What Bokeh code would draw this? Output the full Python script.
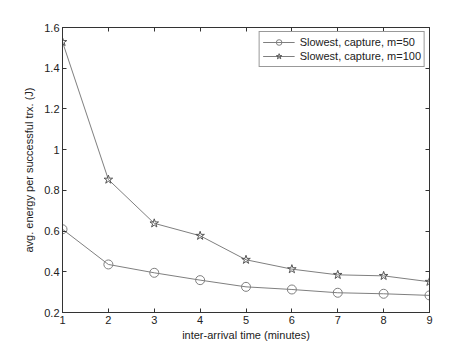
from bokeh.plotting import figure
from bokeh.models import Range1d, FixedTicker, LinearAxis, Legend, LegendItem, CustomJSTickFormatter
from bokeh.embed import file_html
from bokeh.resources import INLINE

x_vals = [1, 2, 3, 4, 5, 6, 7, 8, 9]
m50 = [0.609, 0.436, 0.395, 0.359, 0.326, 0.313, 0.297, 0.292, 0.284]
m100 = [1.529, 0.853, 0.638, 0.577, 0.459, 0.413, 0.385, 0.380, 0.351]
y_ticks = [0.2, 0.4, 0.6, 0.8, 1.0, 1.2, 1.4, 1.6]
y_tick_labels = ["0.2", "0.4", "0.6", "0.8", "1", "1.2", "1.4", "1.6"]
x_label = "inter-arrival time (minutes)"
y_label = "avg. energy per successful trx. (J)"
series_names = ["Slowest, capture, m=50", "Slowest, capture, m=100"]

FONT = "Liberation Sans"
LINE = "#7f7f7f"

p = figure(width=474, height=351, output_backend="svg", toolbar_location=None,
           x_range=Range1d(1, 9), y_range=Range1d(0.2, 1.6),
           min_border_left=62, min_border_right=45, min_border_top=27, min_border_bottom=39)
p.background_fill_color = "white"
p.border_fill_color = "white"
p.outline_line_color = "#333333"
p.outline_line_width = 1
p.grid.visible = False

def style_axis(ax):
    ax.major_tick_in = 4
    ax.major_tick_out = 0
    ax.minor_tick_in = 0
    ax.minor_tick_out = 0
    ax.axis_line_color = "#333333"
    ax.major_tick_line_color = "#333333"
    ax.major_label_text_font = FONT
    ax.major_label_text_font_size = "11px"
    ax.major_label_text_color = "#222222"
    ax.axis_label_text_font = FONT
    ax.axis_label_text_font_size = "11px"
    ax.axis_label_text_font_style = "normal"
    ax.axis_label_text_color = "#222222"

p.xaxis.ticker = FixedTicker(ticks=x_vals)
p.yaxis.ticker = FixedTicker(ticks=y_ticks)
p.yaxis.major_label_overrides = {t: l for t, l in zip(y_ticks, y_tick_labels)}
p.xaxis.axis_label = x_label
p.yaxis.axis_label = y_label
p.xaxis.major_label_standoff = 3
p.xaxis.axis_label_standoff = 2
p.yaxis.major_label_standoff = 3
p.yaxis.axis_label_standoff = 6
style_axis(p.xaxis[0])
style_axis(p.yaxis[0])

top = LinearAxis(ticker=FixedTicker(ticks=x_vals), major_label_policy=None) if False else LinearAxis(ticker=FixedTicker(ticks=x_vals))
right = LinearAxis(ticker=FixedTicker(ticks=y_ticks))
for ax in (top, right):
    style_axis(ax)
    ax.major_label_text_font_size = "0px"
    ax.major_label_standoff = 0
    ax.visible = True
top.formatter = CustomJSTickFormatter(code="return ''")
right.formatter = CustomJSTickFormatter(code="return ''")
p.add_layout(top, "above")
p.add_layout(right, "right")

l1 = p.line(x_vals, m50, line_color=LINE, line_width=1)
c1 = p.scatter(x_vals, m50, marker="circle", size=9, fill_color=None,
               line_color=LINE, line_width=1)
l2 = p.line(x_vals, m100, line_color=LINE, line_width=1)
c2 = p.scatter(x_vals, m100, marker="star", size=9, fill_color=None,
               line_color="#555555", line_width=1)

legend = Legend(items=[LegendItem(label=series_names[0], renderers=[l1, c1]),
                       LegendItem(label=series_names[1], renderers=[l2, c2])],
                location="top_right")
legend.label_text_font = FONT
legend.label_text_font_size = "11px"
legend.label_text_color = "#222222"
legend.border_line_color = "#333333"
legend.border_line_width = 1
legend.margin = 4
legend.padding = 3
legend.spacing = 0
legend.glyph_width = 32
legend.glyph_height = 14
legend.label_height = 14
legend.label_standoff = 5
p.add_layout(legend, "center")

open("out.html", "w").write(file_html(p, INLINE))
